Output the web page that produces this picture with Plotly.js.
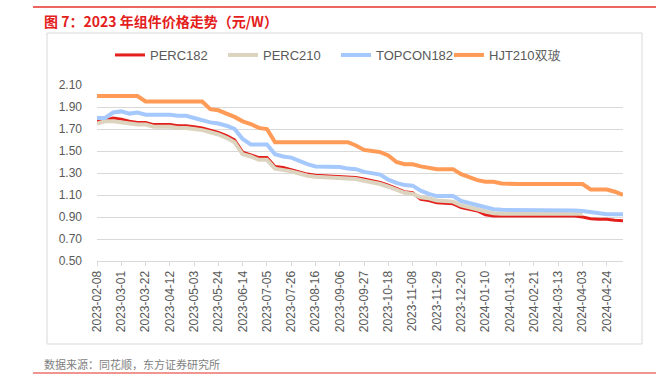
<!DOCTYPE html>
<html>
<head>
<meta charset="utf-8">
<script src="https://cdn.plot.ly/plotly-3.0.1.min.js"></script>
<style>
html,body{margin:0;padding:0;background:#fff;}
#chart{width:656px;height:376px;}
</style>
</head>
<body>
<div id="chart"></div>
<script>
const dates = [
 "2023-02-08","2023-02-15","2023-02-22","2023-03-01","2023-03-08","2023-03-15","2023-03-22","2023-03-29",
 "2023-04-05","2023-04-12","2023-04-19","2023-04-26","2023-05-03","2023-05-10","2023-05-17","2023-05-24","2023-05-31",
 "2023-06-07","2023-06-14","2023-06-21","2023-06-28","2023-07-05","2023-07-12","2023-07-19","2023-07-26",
 "2023-08-02","2023-08-09","2023-08-16","2023-08-23","2023-08-30","2023-09-06","2023-09-13","2023-09-20","2023-09-27",
 "2023-10-04","2023-10-11","2023-10-18","2023-10-25","2023-11-01","2023-11-08","2023-11-15","2023-11-22","2023-11-29",
 "2023-12-06","2023-12-13","2023-12-20","2023-12-27","2024-01-03","2024-01-10","2024-01-17","2024-01-24","2024-01-31",
 "2024-02-07","2024-02-14","2024-02-21","2024-02-28","2024-03-06","2024-03-13","2024-03-20","2024-03-27",
 "2024-04-03","2024-04-10","2024-04-17","2024-04-24","2024-05-01","2024-05-08"
];
const tickLabels = [
 "2023-02-08","2023-03-01","2023-03-22","2023-04-12","2023-05-03","2023-05-24","2023-06-14","2023-07-05",
 "2023-07-26","2023-08-16","2023-09-06","2023-09-27","2023-10-18","2023-11-08","2023-11-29","2023-12-20",
 "2024-01-10","2024-01-31","2024-02-21","2024-03-13","2024-04-03","2024-04-24"
];
const perc182 = [1.77,1.78,1.80,1.79,1.77,1.76,1.76,1.74,1.74,1.74,1.73,1.73,1.72,1.71,1.69,1.67,1.64,1.60,1.49,1.465,1.44,1.44,
 1.36,1.35,1.33,1.31,1.29,1.28,1.275,1.275,1.27,1.265,1.26,1.245,1.23,1.215,1.19,1.16,1.13,1.12,1.06,1.05,1.03,1.025,1.02,
 0.985,0.97,0.955,0.92,0.91,0.91,0.91,0.91,0.91,0.91,0.91,0.91,0.91,0.91,0.91,0.90,0.885,0.88,0.88,0.87,0.865];
const perc210 = [1.75,1.77,1.77,1.76,1.745,1.74,1.74,1.72,1.72,1.72,1.71,1.71,1.70,1.69,1.67,1.65,1.62,1.58,1.47,1.45,1.42,1.42,
 1.34,1.33,1.315,1.295,1.275,1.265,1.26,1.26,1.255,1.25,1.245,1.23,1.215,1.20,1.175,1.145,1.12,1.11,1.08,1.07,1.05,1.045,1.04,
 1.005,0.99,0.97,0.95,0.935,0.93,0.93,0.93,0.93,0.93,0.93,0.93,0.93,0.93,0.93,0.93];
const topcon182 = [1.80,1.80,1.85,1.86,1.84,1.85,1.83,1.83,1.83,1.83,1.82,1.82,1.80,1.78,1.76,1.75,1.73,1.70,1.61,1.56,1.56,1.56,
 1.47,1.45,1.44,1.41,1.38,1.36,1.36,1.36,1.355,1.34,1.335,1.31,1.30,1.285,1.24,1.21,1.19,1.185,1.14,1.11,1.09,1.09,1.09,
 1.045,1.025,1.01,0.985,0.97,0.965,0.965,0.965,0.965,0.965,0.965,0.965,0.965,0.965,0.96,0.955,0.945,0.94,0.925,0.925,0.925];
const hjt210 = [2.00,2.00,2.00,2.00,2.00,2.00,1.95,1.95,1.95,1.95,1.95,1.95,1.95,1.95,1.88,1.87,1.84,1.81,1.77,1.745,1.71,1.70,
 1.58,1.58,1.58,1.58,1.58,1.58,1.58,1.58,1.58,1.58,1.55,1.51,1.50,1.49,1.46,1.40,1.38,1.38,1.36,1.35,1.335,1.335,1.335,
 1.29,1.26,1.235,1.22,1.22,1.205,1.20,1.20,1.20,1.20,1.20,1.20,1.20,1.20,1.20,1.20,1.15,1.15,1.15,1.13,1.10];
const seriesNames = ["PERC182","PERC210","TOPCON182","HJT210双玻"];
const seriesColors = ["#E3201B","#DDD4BF","#A5C8FD","#FF9B57"];
const seriesWidths = [3,4,4,4];
const seriesData = [perc182, perc210, topcon182, hjt210];

const L = 97, R = 623, T = 85, B = 261, W = 656, H = 376;
const px = v => (v - L) / (R - L);
const py = v => (B - v) / (B - T);

const traces = seriesData.map((ys, i) => ({
  type: "scatter", mode: "lines", name: seriesNames[i],
  x: dates.slice(0, ys.length), y: ys,
  line: {color: seriesColors[i], width: seriesWidths[i], shape: "linear"},
  hoverinfo: "skip"
}));

const font = "'Liberation Sans', Arial, sans-serif";
const layout = {
  width: W, height: H,
  margin: {l: L, r: W - R, t: T, b: H - B, pad: 0},
  paper_bgcolor: "#fff", plot_bgcolor: "#fff",
  showlegend: true,
  legend: {
    orientation: "h", x: px(110), xanchor: "left", y: py(40), yanchor: "top",
    font: {family: font, size: 13, color: "#595959"},
    entrywidth: 68, entrywidthmode: "pixels", itemwidth: 30,
    bgcolor: "rgba(0,0,0,0)", traceorder: "normal"
  },
  xaxis: {
    type: "category", range: [0, dates.length - 1],
    tickmode: "array", tickvals: tickLabels, ticktext: tickLabels,
    tickangle: -90, ticks: "outside", ticklen: 4, tickcolor: "#D9D9D9", tickwidth: 1,
    showline: true, linecolor: "#D9D9D9", linewidth: 1,
    showgrid: false, zeroline: false,
    tickfont: {family: font, size: 12, color: "#595959"}
  },
  yaxis: {
    range: [0.5, 2.1], tickmode: "linear", tick0: 0.5, dtick: 0.2, tickformat: ".2f",
    showgrid: true, gridcolor: "#D9D9D9", gridwidth: 1,
    showline: false, zeroline: false, ticks: "", ticklabelstandoff: 14,
    tickfont: {family: font, size: 12, color: "#595959"}
  },
  shapes: [
    {type: "rect", xref: "paper", yref: "paper", x0: px(47), x1: px(642), y0: py(33), y1: py(344),
     line: {color: "#D9D9D9", width: 1}, fillcolor: "rgba(0,0,0,0)", layer: "below"},
    {type: "line", xref: "paper", yref: "paper", x0: px(33), x1: px(656), y0: py(7), y1: py(7),
     line: {color: "#E8312A", width: 1.5}},
    {type: "line", xref: "paper", yref: "paper", x0: px(33), x1: px(656), y0: py(373), y1: py(373),
     line: {color: "#F19590", width: 2}}
  ],
  annotations: [
    {xref: "paper", yref: "paper", x: px(42), y: py(21), xanchor: "left", yanchor: "middle", showarrow: false,
     text: "<b>图 7：2023 年组件价格走势（元/W）</b>",
     font: {family: "'Noto Sans CJK SC', " + font, size: 14, color: "#E3201B"}},
    {xref: "paper", yref: "paper", x: px(42), y: py(364), xanchor: "left", yanchor: "middle", showarrow: false,
     text: "数据来源：同花顺，东方证券研究所",
     font: {family: "'Noto Sans CJK SC', " + font, size: 11, color: "#7F7F7F"}}
  ]
};

Plotly.newPlot("chart", traces, layout, {displayModeBar: false, staticPlot: true});
</script>
</body>
</html>
